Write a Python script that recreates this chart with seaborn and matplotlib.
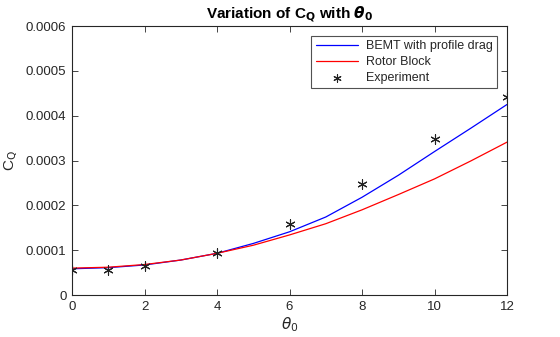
import matplotlib
matplotlib.use("Agg")
import matplotlib.pyplot as plt
import seaborn as sns

# Collective pitch (deg) and torque coefficient
theta = [0, 1, 2, 3, 4, 5, 6, 7, 8, 9, 10, 11, 12]
cq_bemt = [0.585e-4, 0.61e-4, 0.67e-4, 0.78e-4, 0.93e-4, 1.15e-4, 1.41e-4, 1.74e-4,
           2.18e-4, 2.67e-4, 3.20e-4, 3.72e-4, 4.25e-4]
cq_rotor = [0.60e-4, 0.62e-4, 0.68e-4, 0.78e-4, 0.93e-4, 1.11e-4, 1.34e-4, 1.59e-4,
            1.90e-4, 2.24e-4, 2.59e-4, 2.99e-4, 3.41e-4]
theta_exp = [0, 1, 2, 4, 6, 8, 10, 12]
cq_exp = [0.56e-4, 0.56e-4, 0.65e-4, 0.94e-4, 1.58e-4, 2.47e-4, 3.47e-4, 4.41e-4]

xticks = [0, 2, 4, 6, 8, 10, 12]
yticks = [0, 0.0001, 0.0002, 0.0003, 0.0004, 0.0005, 0.0006]
ytick_labels = ["0", "0.0001", "0.0002", "0.0003", "0.0004", "0.0005", "0.0006"]

sns.set_style("white")
plt.rcParams["font.family"] = ["Liberation Sans", "DejaVu Sans"]
plt.rcParams["mathtext.fontset"] = "dejavusans"

fig = plt.figure(figsize=(5.6, 3.37), dpi=100)
ax = fig.add_axes([0.1286, 0.1246, 0.7768, 0.7982])

sns.lineplot(x=theta, y=cq_bemt, ax=ax, color="#0000ff", linewidth=0.9,
             label="BEMT with profile drag")
sns.lineplot(x=theta, y=cq_rotor, ax=ax, color="#ff0000", linewidth=0.9,
             label="Rotor Block")
sns.scatterplot(x=theta_exp, y=cq_exp, ax=ax, marker=(6, 2, 0), s=45,
                color="#222222", linewidth=0.8, label="Experiment", zorder=5)

ax.set_xlim(0, 12)
ax.set_ylim(0, 0.0006)
ax.set_xticks(xticks)
ax.set_xticklabels([str(t) for t in xticks])
ax.set_yticks(yticks)
ax.set_yticklabels(ytick_labels)
ax.tick_params(axis="both", direction="in", length=4, width=0.6, labelsize=9.5,
               colors="#262626", pad=4, top=True, right=True, bottom=True, left=True,
               labeltop=False, labelright=False)
for sp in ax.spines.values():
    sp.set_linewidth(0.8)
    sp.set_color("#262626")

ax.set_xlabel(r"$\theta_0$", fontsize=11, color="#262626", labelpad=2)
ax.set_ylabel(r"C$_\mathrm{Q}$", fontsize=11, color="#262626", labelpad=4)
ax.set_title(r"Variation of C$_\mathbf{Q}$ with $\boldsymbol{\theta}_\mathbf{0}$",
             fontsize=11, fontweight="bold", color="#000000", pad=5)

leg = ax.legend(loc="upper right", bbox_to_anchor=(0.977, 0.963), fontsize=9,
                frameon=True, fancybox=False, edgecolor="#262626",
                borderpad=0.35, handlelength=3.4, handletextpad=0.6,
                labelspacing=0.3, borderaxespad=0, markerscale=0.8)
leg.get_frame().set_linewidth(0.8)

fig.savefig("out.png", dpi=100)
